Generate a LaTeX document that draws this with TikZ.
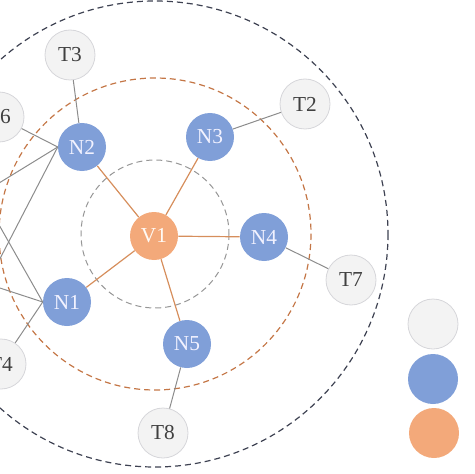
\documentclass[tikz,border=0pt]{standalone}
\usepackage{fontspec}
\setmainfont{Liberation Serif}
\usetikzlibrary{positioning}
\definecolor{nblue}{RGB}{128,159,216}
\definecolor{vorange}{RGB}{243,169,122}
\definecolor{tgray}{RGB}{243,243,243}
\definecolor{tborder}{RGB}{214,214,218}
\definecolor{ringdark}{RGB}{62,66,82}
\definecolor{ringorange}{RGB}{196,118,70}
\definecolor{ringgray}{RGB}{150,150,150}
\definecolor{linkgray}{RGB}{140,140,140}
\definecolor{linkorange}{RGB}{214,142,92}
\tikzset{
  tnode/.style={circle,fill=tgray,draw=tborder,line width=0.6pt,minimum size=37.5pt,inner sep=0pt,text=black!75,font=\fontsize{16}{19}\selectfont},
  nnode/.style={circle,fill=nblue,draw=none,minimum size=36pt,inner sep=0pt,text=white!95!blue,font=\fontsize{16}{19}\selectfont},
  vnode/.style={circle,fill=vorange,draw=none,minimum size=36pt,inner sep=0pt,text=white!96!orange,font=\fontsize{16}{19}\selectfont},
  tlink/.style={draw=linkgray,line width=0.75pt},
  vlink/.style={draw=linkorange,line width=0.9pt}
}
\begin{document}
\begin{tikzpicture}[x=0.75pt,y=0.75pt,yscale=-1]
\useasboundingbox (0,0) rectangle (474,474);
\clip (0,0) rectangle (474,474);

%Rings
\draw [ringdark,line width=0.9pt,dash pattern=on 4.5pt off 3pt] (155,234) circle [radius=233];
\draw [ringorange,line width=0.9pt,dash pattern=on 4.5pt off 3pt] (155,234) circle [radius=156];
\draw [ringgray,line width=0.75pt,dash pattern=on 4.5pt off 3pt] (155,234) circle [radius=74];

%Nodes
\node [vnode] (v1) at (154,236) {V1};
\node [nnode] (n1) at (67,302) {N1};
\node [nnode] (n2) at (82,147) {N2};
\node [nnode] (n3) at (210,137) {N3};
\node [nnode] (n4) at (264,237) {N4};
\node [nnode] (n5) at (187,344) {N5};
\node [tnode] (t2) at (305,104) {T2};
\node [tnode] (t3) at (70,55) {T3};
\node [tnode] (t4) at (1,364) {T4};
\node [tnode] (t6) at (-1,117) {T6};
\node [tnode] (t7) at (351,280) {T7};
\node [tnode] (t8) at (163,433) {T8};

%Legend
\node [tnode] (lt) at (433,324) {};
\node [nnode,minimum size=37.5pt] (ln) at (433,379) {};
\node [vnode,minimum size=37.5pt] (lv) at (434,433) {};

%Free ends off the left edge
\coordinate (e1) at (-40,207);
\coordinate (e2) at (-40,336);
\coordinate (e3) at (-40,156);
\coordinate (e4) at (-40,275);

%Links
\foreach \n in {n1,n2,n3,n4,n5}
  \draw [vlink] (v1) -- (\n);
\draw [tlink] (n2) -- (t3);
\draw [tlink] (n2.west) -- (t6);
\draw [tlink] (n3) -- (t2);
\draw [tlink] (n4) -- (t7);
\draw [tlink] (n5) -- (t8);
\draw [tlink] (n1.west) -- (t4);
\draw [tlink] (n2.west) -- (e1);
\draw [tlink] (n2.west) -- (e2);
\draw [tlink] (n1.west) -- (e3);
\draw [tlink] (n1.west) -- (e4);

\end{tikzpicture}
\end{document}
